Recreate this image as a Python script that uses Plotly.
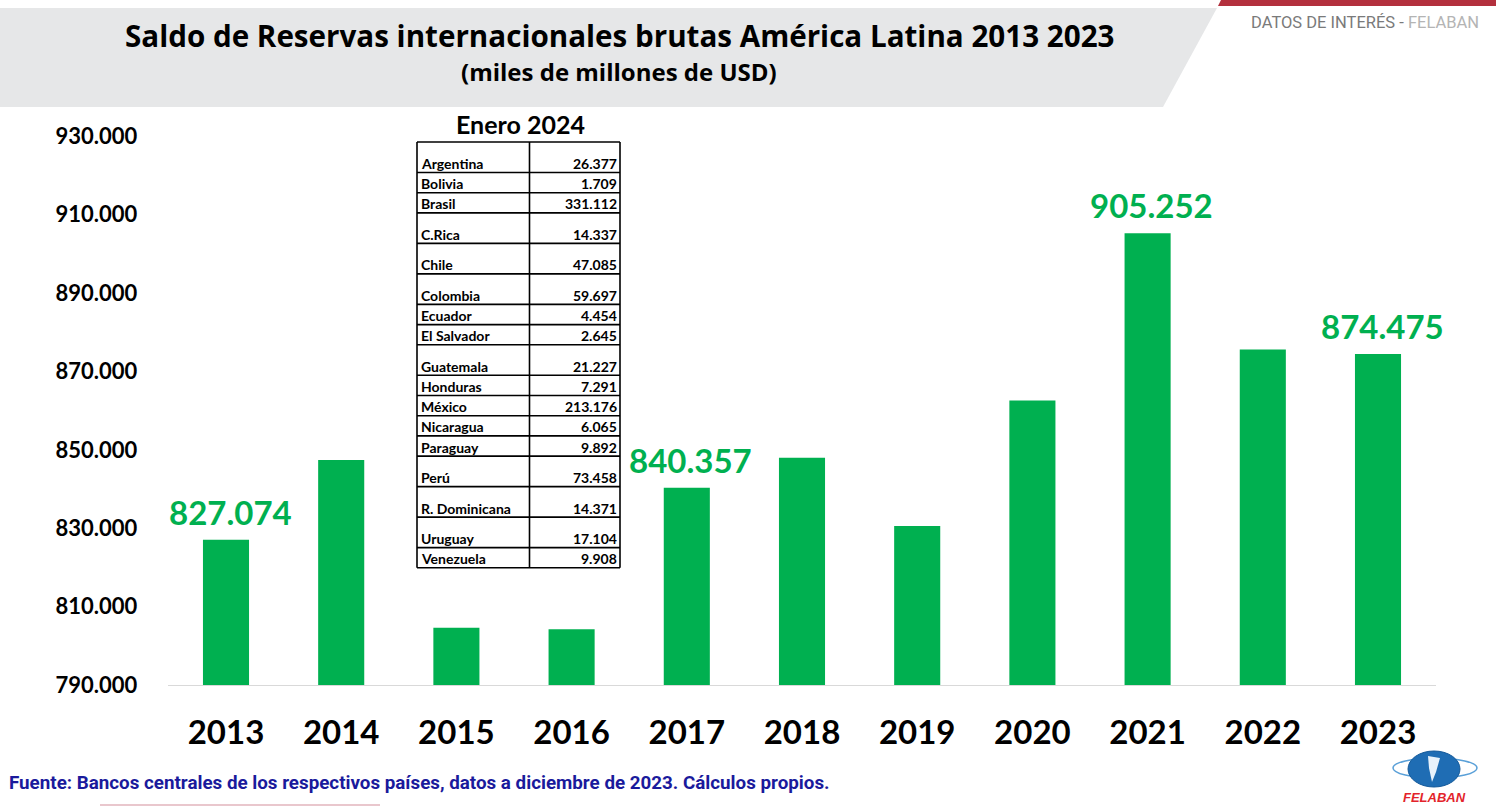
import plotly.graph_objects as go

# ---------------- data ----------------
years = ["2013", "2014", "2015", "2016", "2017", "2018", "2019", "2020", "2021", "2022", "2023"]
reserves = [827074, 847400, 804600, 804200, 840357, 848000, 830600, 862600, 905252, 875600, 874475]
labelled_years = ["2013", "2017", "2021", "2023"]

table_title = "Enero 2024"
countries = ["Argentina", "Bolivia", "Brasil", "C.Rica", "Chile", "Colombia", "Ecuador",
             "El Salvador", "Guatemala", "Honduras", "México", "Nicaragua", "Paraguay",
             "Perú", "R. Dominicana", "Uruguay", "Venezuela"]
country_values = [26377, 1709, 331112, 14337, 47085, 59697, 4454, 2645, 21227, 7291,
                  213176, 6065, 9892, 73458, 14371, 17104, 9908]

title = "Saldo de Reservas internacionales brutas América Latina 2013 2023"
subtitle = "(miles de millones de USD)"
source = "Fuente: Bancos centrales de los respectivos países, datos a diciembre de 2023. Cálculos propios."

# ---------------- layout helpers ----------------
W, H = 1496, 806
def px(x):
    return x / W
def py(y):
    return 1 - y / H

def fmt(v):
    return f"{v:,}".replace(",", ".")

GREEN = "#00B050"
FONT = "Lato, 'Open Sans', sans-serif"
TFONT = "'Open Sans', Lato, sans-serif"

fig = go.Figure()
fig.add_trace(go.Bar(x=years, y=reserves, marker=dict(color=GREEN, line=dict(width=0)),
                     hoverinfo="skip"))

shapes = []
annotations = []

# header band
shapes.append(dict(type="path", xref="paper", yref="paper", layer="below",
                   path=f"M 0 {py(8)} L {px(1217)} {py(8)} L {px(1163)} {py(107)} L 0 {py(107)} Z",
                   fillcolor="#e6e7e8", line=dict(width=0)))
shapes.append(dict(type="path", xref="paper", yref="paper",
                   path=f"M {px(1221)} 1 L 1 1 L 1 {py(6)} L {px(1218)} {py(6)} Z",
                   fillcolor="#b3303d", line=dict(width=0)))

annotations.append(dict(xref="paper", yref="paper", x=px(619), y=py(36), text=f"<b>{title}</b>",
                        showarrow=False, xanchor="center", yanchor="middle",
                        font=dict(family=TFONT, size=29.6, color="black")))
annotations.append(dict(xref="paper", yref="paper", x=px(619), y=py(71), text=f"<b>{subtitle}</b>",
                        showarrow=False, xanchor="center", yanchor="middle",
                        font=dict(family=TFONT, size=24, color="black")))
annotations.append(dict(xref="paper", yref="paper", x=px(1481), y=py(22),
                        text="DATOS DE INTERÉS - <span style='color:#b4b4b4'>FELABAN</span>",
                        showarrow=False, xanchor="right", yanchor="middle",
                        font=dict(family="Roboto, sans-serif", size=16.5, color="#7a7a7a")))

# value labels (positioned by category index on the category axis)
for i, (yr, v) in enumerate(zip(years, reserves)):
    if yr in labelled_years:
        annotations.append(dict(x=i, y=v, xref="x", yref="y", text=f"<b>{fmt(v)}</b>",
                                showarrow=False, xanchor="center", yanchor="middle",
                                xshift=4, yshift=28,
                                font=dict(family=FONT, size=33, color=GREEN)))

# table
tx0, tx1, txm = 417, 620, 529.5
ty0 = 142
tall, short = 30.5, 20.2
row_heights = [tall, short, short, tall, tall, tall, short, short, tall, short, short,
               short, short, tall, tall, tall, short]
annotations.append(dict(xref="paper", yref="paper", x=px(520), y=py(124), text=f"<b>{table_title}</b>",
                        showarrow=False, xanchor="center", yanchor="middle",
                        font=dict(family=FONT, size=25, color="black")))
bounds = [ty0]
for h in row_heights:
    bounds.append(bounds[-1] + h)
for b in bounds:
    shapes.append(dict(type="line", xref="paper", yref="paper", x0=px(tx0), x1=px(tx1),
                       y0=py(b), y1=py(b), line=dict(color="black", width=1.6)))
for xv in (tx0, txm, tx1):
    shapes.append(dict(type="line", xref="paper", yref="paper", x0=px(xv), x1=px(xv),
                       y0=py(bounds[0]), y1=py(bounds[-1]), line=dict(color="black", width=1.6)))
for i, (c, v) in enumerate(zip(countries, country_values)):
    yc = bounds[i + 1] - 9
    annotations.append(dict(xref="paper", yref="paper", x=px(419), y=py(yc), text=f"<b>{c}</b>",
                            showarrow=False, xanchor="left", yanchor="middle",
                            font=dict(family=FONT, size=14, color="black")))
    annotations.append(dict(xref="paper", yref="paper", x=px(619), y=py(yc), text=f"<b>{fmt(v)}</b>",
                            showarrow=False, xanchor="right", yanchor="middle",
                            font=dict(family=FONT, size=14, color="black")))

# footer
annotations.append(dict(xref="paper", yref="paper", x=px(7), y=py(783), text=f"<b>{source}</b>",
                        showarrow=False, xanchor="left", yanchor="middle",
                        font=dict(family="Roboto, sans-serif", size=18.8, color="#1a1a9c")))
shapes.append(dict(type="line", xref="paper", yref="paper", x0=px(100), x1=px(380),
                   y0=py(805), y1=py(805), line=dict(color="#e2b4bc", width=1.5)))

# logo (approximation)
shapes.append(dict(type="circle", xref="paper", yref="paper", x0=px(1393), x1=px(1477),
                   y0=py(778), y1=py(758), line=dict(color="#5aa0d8", width=1.5)))
shapes.append(dict(type="circle", xref="paper", yref="paper", x0=px(1408), x1=px(1460),
                   y0=py(787), y1=py(751), fillcolor="#1f6db4", line=dict(color="#155a9a", width=1)))
shapes.append(dict(type="path", xref="paper", yref="paper",
                   path=f"M {px(1428)} {py(756)} L {px(1440)} {py(758)} L {px(1436)} {py(772)} L {px(1432)} {py(782)} L {px(1429)} {py(768)} Z",
                   fillcolor="#e8f2fb", line=dict(width=0)))
annotations.append(dict(xref="paper", yref="paper", x=px(1434), y=py(797),
                        text="<b><i>FELABAN</i></b>", showarrow=False, xanchor="center", yanchor="middle",
                        font=dict(family="'Liberation Sans', sans-serif", size=13, color="#e3242b")))

fig.update_layout(
    width=W, height=H, margin=dict(l=0, r=0, t=0, b=0, autoexpand=False),
    paper_bgcolor="white", plot_bgcolor="white",
    separators=",.",
    bargap=0.6, showlegend=False,
    xaxis=dict(domain=[px(168.4), px(1435.6)], type="category", range=[-0.5, len(years) - 0.5],
               autorange=False, showgrid=False, automargin=False,
               showline=True, linecolor="#d9d9d9", linewidth=1, ticks="",
               tickfont=dict(family=FONT, size=33, color="black"), ticklabelstandoff=18,
               tickprefix="<b>", ticksuffix="</b>"),
    yaxis=dict(domain=[py(685), py(136.3)], range=[790000, 930000], autorange=False, dtick=20000,
               tick0=790000, tickformat=",d", showgrid=False, zeroline=False, showline=False,
               automargin=False,
               ticks="", tickfont=dict(family=FONT, size=22, color="black"),
               ticklabelstandoff=30, tickprefix="<b>", ticksuffix="</b>"),
    shapes=shapes, annotations=annotations,
)

fig.write_html("out.html")
